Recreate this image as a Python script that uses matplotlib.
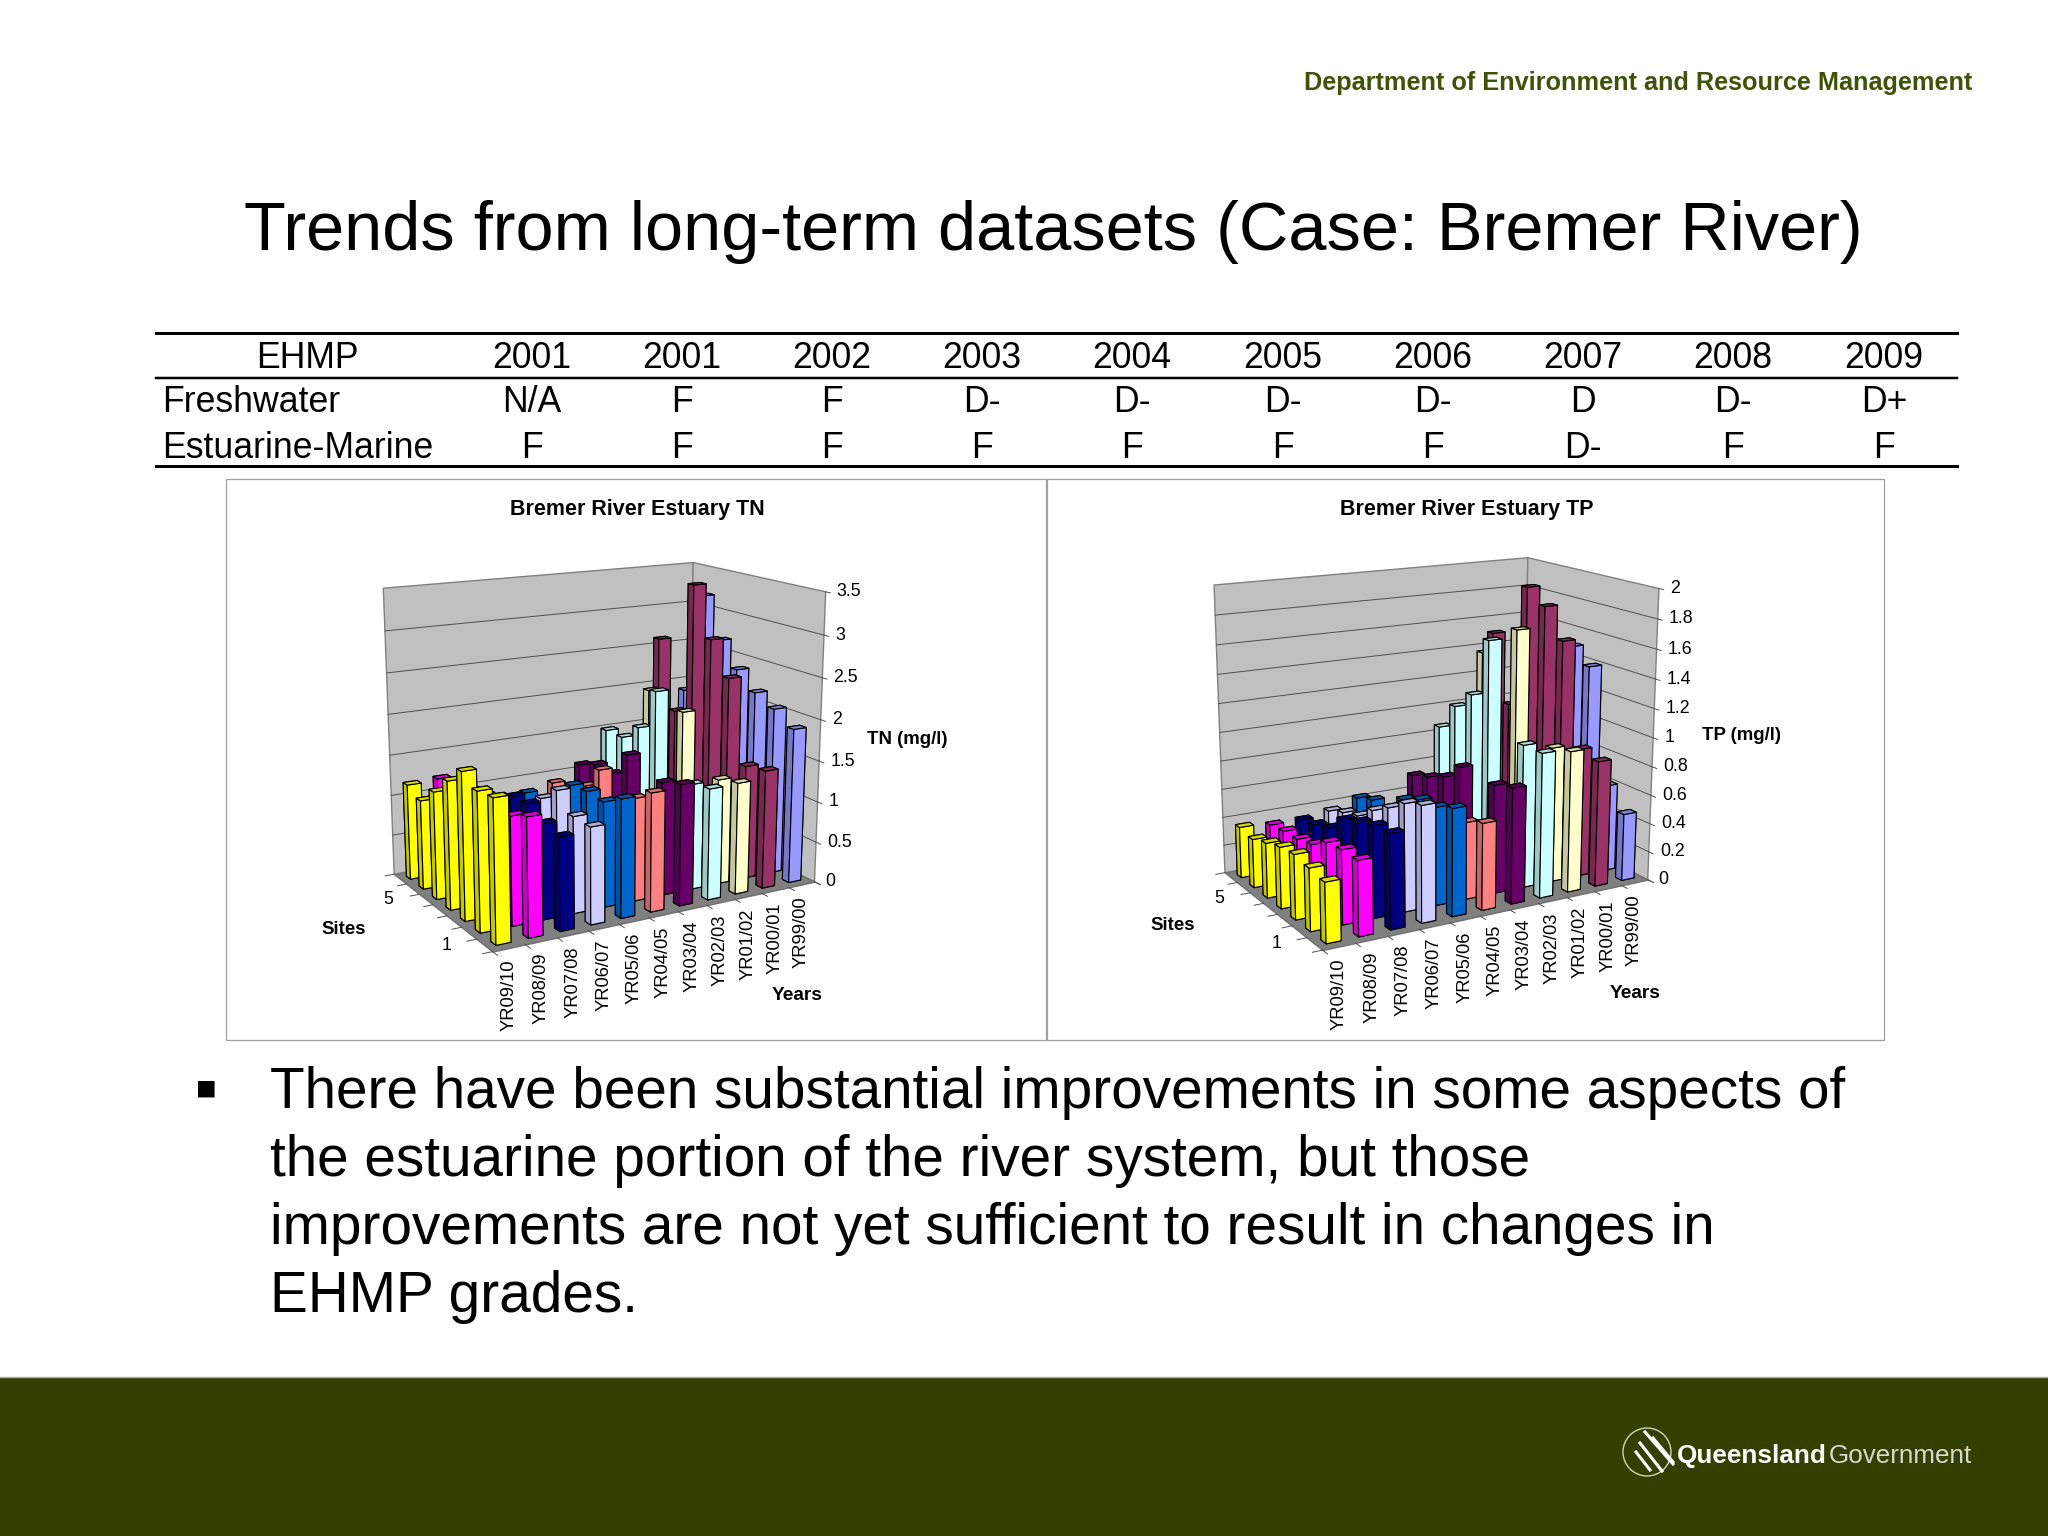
import numpy as np
import matplotlib
matplotlib.use('Agg')
import matplotlib.pyplot as plt
from matplotlib.lines import Line2D
from matplotlib.patches import Rectangle, Circle
from matplotlib.transforms import IdentityTransform
from mpl_toolkits.mplot3d import proj3d
from mpl_toolkits.mplot3d.art3d import Poly3DCollection

plt.rcParams['font.family'] = ['Liberation Sans', 'DejaVu Sans']

W, H = 2048, 1536

# table at the top of the slide
table_years = ['2001', '2001', '2002', '2003', '2004', '2005', '2006', '2007', '2008', '2009']
freshwater = ['N/A', 'F', 'F', 'D-', 'D-', 'D-', 'D-', 'D', 'D-', 'D+']
estuarine = ['F', 'F', 'F', 'F', 'F', 'F', 'F', 'D-', 'F', 'F']

bullet_lines = ['There have been substantial improvements in some aspects of',
                'the estuarine portion of the river system, but those',
                'improvements are not yet sufficient to result in changes in',
                'EHMP grades.']

years = ['YR09/10', 'YR08/09', 'YR07/08', 'YR06/07', 'YR05/06', 'YR04/05',
         'YR03/04', 'YR02/03', 'YR01/02', 'YR00/01', 'YR99/00']
year_colors = ['#FFFF00', '#FF00FF', '#000080', '#CCCCFF', '#0066CC', '#FF8080',
               '#660066', '#CCFFFF', '#FFFFCC', '#993366', '#9999FF']

# one row per year, sites 1 to 7 (front to back)
tn_values = [
    [1.65, 1.62, 1.74, 1.53, 1.30, 1.09, 1.18],
    [1.38, 1.28, 1.20, 1.20, 1.20, 1.15, 1.20],
    [1.09, 1.13, 1.25, 1.23, 1.12, 1.05, 1.00],
    [1.14, 1.15, 1.35, 1.15, 0.95, 0.90, 0.80],
    [1.40, 1.26, 1.28, 1.25, 1.00, 0.80, 0.85],
    [1.41, 1.24, 1.00, 1.38, 1.08, 0.90, 0.92],
    [1.45, 1.37, 1.00, 1.51, 1.18, 1.20, 1.10],
    [1.34, 1.29, 1.10, 2.24, 1.71, 1.50, 1.50],
    [1.35, 1.29, 1.00, 1.94, 0.90, 2.05, 1.00],
    [1.44, 1.40, 2.39, 2.79, 3.40, 1.74, 2.60],
    [1.89, 2.05, 2.17, 2.38, 2.68, 3.18, 1.89],
]
tp_values = [
    [0.40, 0.42, 0.44, 0.42, 0.38, 0.34, 0.36],
    [0.50, 0.50, 0.48, 0.40, 0.37, 0.36, 0.34],
    [0.635, 0.62, 0.58, 0.53, 0.41, 0.37, 0.34],
    [0.78, 0.73, 0.64, 0.56, 0.46, 0.42, 0.37],
    [0.725, 0.67, 0.66, 0.60, 0.45, 0.475, 0.43],
    [0.59, 0.53, 0.45, 0.40, 0.40, 0.40, 0.30],
    [0.79, 0.75, 0.40, 0.76, 0.635, 0.575, 0.53],
    [0.99, 0.99, 0.62, 1.61, 1.19, 1.06, 0.86],
    [0.97, 0.94, 0.70, 1.66, 0.45, 1.42, 0.85],
    [0.87, 0.90, 1.60, 1.80, 1.90, 1.02, 1.50],
    [0.47, 0.61, 1.40, 1.50, 1.40, 1.50, 1.30],
]
tn_ticks = [0, 0.5, 1, 1.5, 2, 2.5, 3, 3.5]
tp_ticks = [0, 0.2, 0.4, 0.6, 0.8, 1, 1.2, 1.4, 1.6, 1.8, 2]


def darker(c, k):
    r = np.array(matplotlib.colors.to_rgb(c)) * k
    return tuple(r)


def put(x, y, s, **kw):
    return fig.text(x / W, 1 - y / H, s, **kw)


def chart(values, ticks, unit, cam, title_xy, unit_xy, sites_xy, years_xy, title):
    elev, azim, f, b, c3, s, cx, cy = cam
    ax = fig.add_axes([(cx - s / 2) / W, 1 - (cy + s / 2) / H, s / W, s / H], projection='3d',
                      computed_zorder=False)
    zmax = ticks[-1]
    ax.set_xlim(0, 11, view_margin=0)
    ax.set_ylim(0, 7, view_margin=0)
    ax.set_zlim(0, zmax, view_margin=0)
    ax.set_axis_off()
    ax.patch.set_visible(False)
    ax.view_init(elev=elev, azim=azim)
    ax.set_proj_type('persp', focal_length=f)
    ax.set_box_aspect((1, b, c3))

    # walls and floor
    walls = [[(0, 7, 0), (11, 7, 0), (11, 7, zmax), (0, 7, zmax)],
             [(11, 0, 0), (11, 7, 0), (11, 7, zmax), (11, 0, zmax)]]
    floor = [[(0, 0, 0), (11, 0, 0), (11, 7, 0), (0, 7, 0)]]
    for polys, fc, ec in [(walls, '#C0C0C0', '#808080'), (floor, '#808080', '#707070')]:
        col = Poly3DCollection(polys, facecolors=fc, edgecolors=ec, linewidths=1.0, zorder=1)
        ax.add_collection3d(col)
        col.set_clip_on(False)
    segs = []
    for t in ticks:
        if 0 < t < zmax:
            segs.append(([0, 11, 11], [7, 7, 0], [t, t, t]))
        segs.append(([11, 11], [0, -0.22], [t, t]))
    for i in range(12):
        segs.append(([i, i], [0, -0.3], [0, 0]))
    for j in range(8):
        segs.append(([0, -0.3], [j, j], [0, 0]))
    for sx, sy, sz in segs:
        ax.plot(sx, sy, sz, color='#505050', lw=0.7, zorder=2, clip_on=False)

    # painter's order, back corner first
    bw, bd = 0.46, 0.32
    z = 10
    for i in range(10, -1, -1):
        c = year_colors[i]
        faces = [darker(c, 0.6), darker(c, 0.85), c, darker(c, 0.6), darker(c, 0.78), c]
        for j in range(6, -1, -1):
            col = ax.bar3d(i + 0.5 - bw / 2, j + 0.5 - bd / 2, 0, bw, bd, values[i][j],
                           color=faces, edgecolor='black', linewidth=0.8, shade=False, zorder=z)
            col.set_clip_on(False)
            z += 1

    # tick labels hang off projected floor points
    M = ax.get_proj()
    for i in range(11):
        px, py, _ = proj3d.proj_transform(i + 0.5, 0, 0, M)
        ax.annotate(years[i], xy=(px, py), xytext=(0, -12), textcoords='offset pixels', rotation=90,
                    ha='center', va='top', fontsize=13.2, zorder=500)
    for t in ticks:
        px, py, _ = proj3d.proj_transform(11, 0, t, M)
        ax.annotate('%g' % t, xy=(px, py), xytext=(11, 0), textcoords='offset pixels',
                    ha='left', va='center', fontsize=12.8, zorder=500)
    for j, lab in [(0, '1'), (4, '5')]:
        px, py, _ = proj3d.proj_transform(0, j + 0.5, 0, M)
        ax.annotate(lab, xy=(px, py), xytext=(-38, 0), textcoords='offset pixels',
                    ha='center', va='center', fontsize=12.8, zorder=500)

    put(*title_xy, title, fontsize=15.5, fontweight='bold', ha='center', va='center')
    put(*unit_xy, unit, fontsize=13.4, fontweight='bold', ha='left', va='center')
    put(*sites_xy, 'Sites', fontsize=13.4, fontweight='bold', ha='center', va='center')
    put(*years_xy, 'Years', fontsize=13.8, fontweight='bold', ha='center', va='center')


fig = plt.figure(figsize=(W / 100, H / 100), dpi=100, facecolor='white')

# footer band
fig.add_artist(Rectangle((0, 0), 1, (H - 1377) / H, transform=fig.transFigure, color='#334000', lw=0))
fig.add_artist(Line2D([0, 1], [1 - 1377 / H, 1 - 1377 / H], color='#A8B098', lw=1.0))

put(1972, 83, 'Department of Environment and Resource Management', fontsize=18.2, fontweight='bold',
    color='#3F5208', ha='right', va='center')
put(1053, 232, 'Trends from long-term datasets (Case: Bremer River)', fontsize=49.3, ha='center', va='center')

# table
for yy, lw in [(333, 3), (378, 2.5), (466, 3)]:
    fig.add_artist(Line2D([156 / W, 1957 / W], [1 - yy / H, 1 - yy / H], color='black', lw=lw * 0.72))
col_x = [532, 682, 832, 982, 1132, 1283, 1433, 1583, 1733, 1884]
put(307, 358, 'EHMP', fontsize=25.7, ha='center', va='center')
put(162, 403, 'Freshwater', fontsize=25.7, ha='left', va='center')
put(162, 448, 'Estuarine-Marine', fontsize=25.7, ha='left', va='center')
for k in range(10):
    put(col_x[k], 358, table_years[k], fontsize=25.7, ha='center', va='center')
    put(col_x[k], 403, freshwater[k], fontsize=25.7, ha='center', va='center')
    put(col_x[k], 448, estuarine[k], fontsize=25.7, ha='center', va='center')

# chart frames
for x0, x1 in [(226, 1046), (1047, 1884)]:
    fig.add_artist(Rectangle((x0 / W, 1 - 1040 / H), (x1 - x0) / W, (1040 - 479) / H, transform=fig.transFigure,
                             facecolor='white', edgecolor='#A0A0A0', lw=0.9, zorder=-1))

chart(tn_values, tn_ticks, 'TN (mg/l)', (14.725, -119.822, 0.538, 0.644, 0.820, 508.895, 595.970, 744.543),
      (637, 510), (867, 739), (344, 929), (797, 996), 'Bremer River Estuary TN')
chart(tp_values, tp_ticks, 'TP (mg/l)', (15.060, -119.676, 0.552, 0.634, 0.817, 511.876, 1428.091, 742.036),
      (1467, 510), (1702, 735), (1173, 925), (1635, 993), 'Bremer River Estuary TP')

# bullet
put(206, 1088, '\u25AA', fontsize=24, ha='center', va='center', family=['DejaVu Sans'])
for k, line in enumerate(bullet_lines):
    put(270, 1093 + 68 * k, line, fontsize=40.9, ha='left', va='center')

# Queensland Government mark
put(1677, 1456, 'Queensland', fontsize=18.8, fontweight='bold', color='white', ha='left', va='center')
put(1972, 1456, 'Government', fontsize=18.7, color='#D8D8D0', ha='right', va='center')
fig.add_artist(Circle((1647, H - 1452), 24, transform=IdentityTransform(), fill=False, ec='#D0D4C0', lw=1.0))
for x0, y0, x1, y1 in [(1645, 1432, 1673, 1464), (1640, 1443, 1662, 1471), (1636, 1452, 1650, 1470), (1653, 1438, 1673, 1462)]:
    fig.add_artist(Line2D([x0, x1], [H - y0, H - y1], transform=IdentityTransform(), color='white', lw=2.2))

fig.savefig('out.png', dpi=100)
